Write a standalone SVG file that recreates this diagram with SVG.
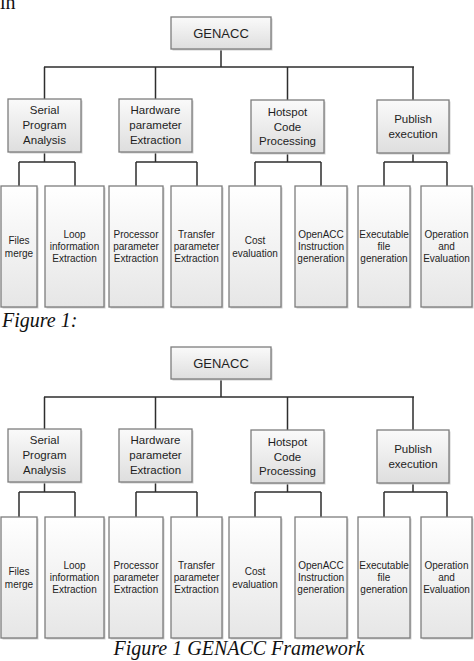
<svg xmlns="http://www.w3.org/2000/svg" width="474" height="661" viewBox="0 0 474 661">
<defs>
<linearGradient id="gMid" x1="0" y1="0" x2="0" y2="1">
<stop offset="0" stop-color="#fafafa"/><stop offset="1" stop-color="#dedede"/>
</linearGradient>
<linearGradient id="gLeaf" x1="0" y1="0" x2="0" y2="1">
<stop offset="0" stop-color="#ffffff"/><stop offset="1" stop-color="#e6e6e6"/>
</linearGradient>
<style>
.box{fill:url(#gMid);stroke:#7d7d7d;stroke-width:1.3}
.leaf{fill:url(#gLeaf);stroke:#7d7d7d;stroke-width:1.3}
.sh{fill:#cfcfcf}
.conn{stroke:#2e2e2e;stroke-width:1.5;fill:none}
.t1{font-family:"Liberation Sans",Arial,sans-serif;font-size:13px;fill:#1e1e1e;text-anchor:middle}
.t2{font-family:"Liberation Sans",Arial,sans-serif;font-size:11.5px;fill:#1e1e1e;text-anchor:middle}
.t3{font-family:"Liberation Sans",Arial,sans-serif;font-size:10px;fill:#1e1e1e;text-anchor:middle}
.cap{font-family:"Liberation Serif","Times New Roman",serif;font-style:italic;font-size:20px;fill:#111}
.body{font-family:"Liberation Serif","Times New Roman",serif;font-size:20px;fill:#111}
</style>
</defs>
<rect width="474" height="661" fill="#ffffff"/>
<text class="body" x="0" y="9">in</text>

<g id="figure-a">
<g id="a-connectors">
<path class="conn" d="M221 49V67M44 67H414M44.5 67V99M155.5 67V99M287.5 67V100M413 67V100"/>
<path class="conn" d="M44.5 152V162M19 162H75M19 162V186M75 162V186"/>
<path class="conn" d="M155.5 152V162M136 162H197M136 162V186M197 162V186"/>
<path class="conn" d="M287.5 153V162M255 162H321M255 162V186M321 162V186"/>
<path class="conn" d="M413 153V162M384 162H447M384 162V186M447 162V186"/>
</g>
<g id="a-genacc"><rect class="sh" x="172.5" y="18.5" width="100" height="32"/><rect class="box" x="171" y="17" width="100" height="32"/><text class="t1" x="221" y="37.5">GENACC</text></g>
<g id="a-serial"><rect class="sh" x="9.5" y="100.5" width="73" height="53"/><rect class="box" x="8" y="99" width="73" height="53"/><text class="t2" x="44.5" y="114">Serial</text><text class="t2" x="44.5" y="129">Program</text><text class="t2" x="44.5" y="144">Analysis</text></g>
<g id="a-hardware"><rect class="sh" x="120.5" y="100.5" width="73" height="53"/><rect class="box" x="119" y="99" width="73" height="53"/><text class="t2" x="155.5" y="114">Hardware</text><text class="t2" x="155.5" y="129">parameter</text><text class="t2" x="155.5" y="144">Extraction</text></g>
<g id="a-hotspot"><rect class="sh" x="252.5" y="101.5" width="73" height="53"/><rect class="box" x="251" y="100" width="73" height="53"/><text class="t2" x="287.5" y="116">Hotspot</text><text class="t2" x="287.5" y="131">Code</text><text class="t2" x="287.5" y="145">Processing</text></g>
<g id="a-publish"><rect class="sh" x="378.5" y="101.5" width="72" height="53"/><rect class="box" x="377" y="100" width="72" height="53"/><text class="t2" x="413" y="123">Publish</text><text class="t2" x="413" y="138">execution</text></g>
<g id="a-files"><rect class="sh" x="2.5" y="187.5" width="36" height="121"/><rect class="leaf" x="1" y="186" width="36" height="121"/><text class="t3" x="19" y="244">Files</text><text class="t3" x="19" y="256.5">merge</text></g>
<g id="a-loop"><rect class="sh" x="46.5" y="187.5" width="59" height="121"/><rect class="leaf" x="45" y="186" width="59" height="121"/><text class="t3" x="74.5" y="237.5">Loop</text><text class="t3" x="74.5" y="249.5">information</text><text class="t3" x="74.5" y="261.5">Extraction</text></g>
<g id="a-processor"><rect class="sh" x="110.5" y="187.5" width="54" height="121"/><rect class="leaf" x="109" y="186" width="54" height="121"/><text class="t3" x="136" y="237.5">Processor</text><text class="t3" x="136" y="249.5">parameter</text><text class="t3" x="136" y="261.5">Extraction</text></g>
<g id="a-transfer"><rect class="sh" x="172.5" y="187.5" width="51" height="121"/><rect class="leaf" x="171" y="186" width="51" height="121"/><text class="t3" x="196.5" y="237.5">Transfer</text><text class="t3" x="196.5" y="249.5">parameter</text><text class="t3" x="196.5" y="261.5">Extraction</text></g>
<g id="a-cost"><rect class="sh" x="230.5" y="187.5" width="52" height="121"/><rect class="leaf" x="229" y="186" width="52" height="121"/><text class="t3" x="255" y="244">Cost</text><text class="t3" x="255" y="256.5">evaluation</text></g>
<g id="a-openacc"><rect class="sh" x="296.5" y="187.5" width="52" height="121"/><rect class="leaf" x="295" y="186" width="52" height="121"/><text class="t3" x="321" y="237.5">OpenACC</text><text class="t3" x="321" y="249.5">Instruction</text><text class="t3" x="321" y="261.5">generation</text></g>
<g id="a-executable"><rect class="sh" x="359.5" y="187.5" width="52" height="121"/><rect class="leaf" x="358" y="186" width="52" height="121"/><text class="t3" x="384" y="237.5">Executable</text><text class="t3" x="384" y="249.5">file</text><text class="t3" x="384" y="261.5">generation</text></g>
<g id="a-operation"><rect class="sh" x="422.5" y="187.5" width="51" height="121"/><rect class="leaf" x="421" y="186" width="51" height="121"/><text class="t3" x="446.5" y="237.5">Operation</text><text class="t3" x="446.5" y="249.5">and</text><text class="t3" x="446.5" y="261.5">Evaluation</text></g>
</g>
<text class="cap" x="2" y="327">Figure 1:</text>

<g id="figure-b" transform="translate(0,330)">
<g id="b-connectors">
<path class="conn" d="M221 49V67M44 67H414M44.5 67V99M155.5 67V99M287.5 67V100M413 67V100"/>
<path class="conn" d="M44.5 152V162M19 162H75M19 162V187M75 162V187"/>
<path class="conn" d="M155.5 152V162M136 162H197M136 162V187M197 162V187"/>
<path class="conn" d="M287.5 153V162M255 162H321M255 162V187M321 162V187"/>
<path class="conn" d="M413 153V162M384 162H447M384 162V187M447 162V187"/>
</g>
<g id="b-genacc"><rect class="sh" x="172.5" y="18.5" width="100" height="32"/><rect class="box" x="171" y="17" width="100" height="32"/><text class="t1" x="221" y="37.5">GENACC</text></g>
<g id="b-serial"><rect class="sh" x="9.5" y="100.5" width="73" height="53"/><rect class="box" x="8" y="99" width="73" height="53"/><text class="t2" x="44.5" y="114">Serial</text><text class="t2" x="44.5" y="129">Program</text><text class="t2" x="44.5" y="144">Analysis</text></g>
<g id="b-hardware"><rect class="sh" x="120.5" y="100.5" width="73" height="53"/><rect class="box" x="119" y="99" width="73" height="53"/><text class="t2" x="155.5" y="114">Hardware</text><text class="t2" x="155.5" y="129">parameter</text><text class="t2" x="155.5" y="144">Extraction</text></g>
<g id="b-hotspot"><rect class="sh" x="252.5" y="101.5" width="73" height="53"/><rect class="box" x="251" y="100" width="73" height="53"/><text class="t2" x="287.5" y="116">Hotspot</text><text class="t2" x="287.5" y="131">Code</text><text class="t2" x="287.5" y="145">Processing</text></g>
<g id="b-publish"><rect class="sh" x="378.5" y="101.5" width="72" height="53"/><rect class="box" x="377" y="100" width="72" height="53"/><text class="t2" x="413" y="123">Publish</text><text class="t2" x="413" y="138">execution</text></g>
<g id="b-files"><rect class="sh" x="2.5" y="188.5" width="36" height="121"/><rect class="leaf" x="1" y="187" width="36" height="121"/><text class="t3" x="19" y="245">Files</text><text class="t3" x="19" y="257.5">merge</text></g>
<g id="b-loop"><rect class="sh" x="46.5" y="188.5" width="59" height="121"/><rect class="leaf" x="45" y="187" width="59" height="121"/><text class="t3" x="74.5" y="238.5">Loop</text><text class="t3" x="74.5" y="250.5">information</text><text class="t3" x="74.5" y="262.5">Extraction</text></g>
<g id="b-processor"><rect class="sh" x="110.5" y="188.5" width="54" height="121"/><rect class="leaf" x="109" y="187" width="54" height="121"/><text class="t3" x="136" y="238.5">Processor</text><text class="t3" x="136" y="250.5">parameter</text><text class="t3" x="136" y="262.5">Extraction</text></g>
<g id="b-transfer"><rect class="sh" x="172.5" y="188.5" width="51" height="121"/><rect class="leaf" x="171" y="187" width="51" height="121"/><text class="t3" x="196.5" y="238.5">Transfer</text><text class="t3" x="196.5" y="250.5">parameter</text><text class="t3" x="196.5" y="262.5">Extraction</text></g>
<g id="b-cost"><rect class="sh" x="230.5" y="188.5" width="52" height="121"/><rect class="leaf" x="229" y="187" width="52" height="121"/><text class="t3" x="255" y="245">Cost</text><text class="t3" x="255" y="257.5">evaluation</text></g>
<g id="b-openacc"><rect class="sh" x="296.5" y="188.5" width="52" height="121"/><rect class="leaf" x="295" y="187" width="52" height="121"/><text class="t3" x="321" y="238.5">OpenACC</text><text class="t3" x="321" y="250.5">Instruction</text><text class="t3" x="321" y="262.5">generation</text></g>
<g id="b-executable"><rect class="sh" x="359.5" y="188.5" width="52" height="121"/><rect class="leaf" x="358" y="187" width="52" height="121"/><text class="t3" x="384" y="238.5">Executable</text><text class="t3" x="384" y="250.5">file</text><text class="t3" x="384" y="262.5">generation</text></g>
<g id="b-operation"><rect class="sh" x="422.5" y="188.5" width="51" height="121"/><rect class="leaf" x="421" y="187" width="51" height="121"/><text class="t3" x="446.5" y="238.5">Operation</text><text class="t3" x="446.5" y="250.5">and</text><text class="t3" x="446.5" y="262.5">Evaluation</text></g>
</g>
<text class="cap" x="239" y="655" text-anchor="middle">Figure 1 GENACC Framework</text>
</svg>
